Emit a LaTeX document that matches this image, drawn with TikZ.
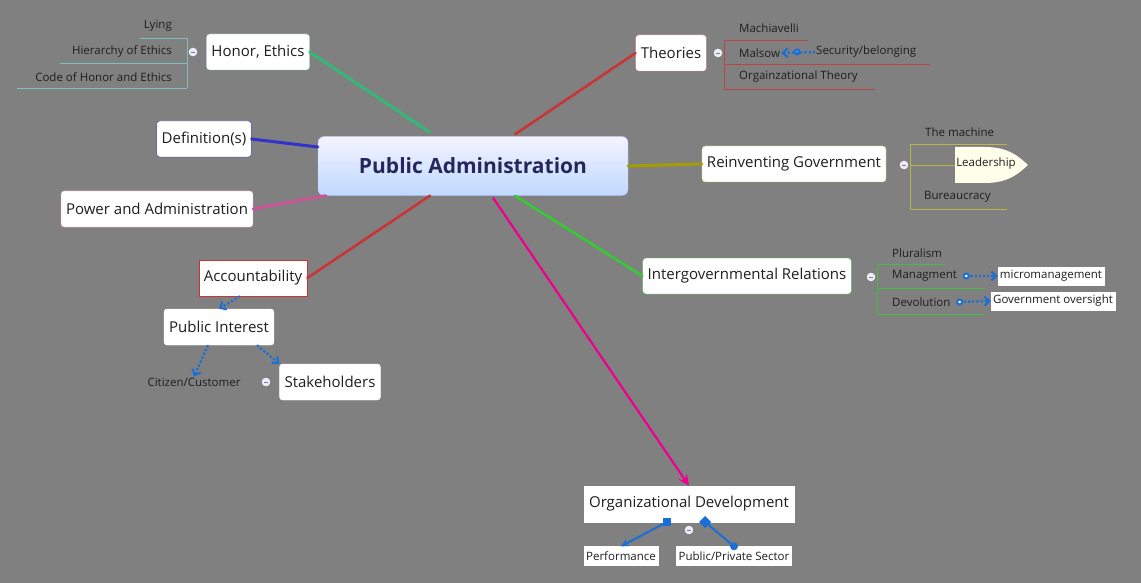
\documentclass[tikz,border=0pt]{standalone}
\usepackage{fontspec}
\setmainfont{Open Sans}
\usetikzlibrary{arrows.meta,shapes.geometric}
\definecolor{bg}{HTML}{808080}
\definecolor{txt}{HTML}{1E1E1E}
\definecolor{arrowblue}{HTML}{1A6FD6}
\tikzset{
  topic/.style={draw=#1,fill=white,rounded corners=3pt,inner xsep=5pt,minimum height=36pt,font=\fontsize{15}{18}\selectfont,text=txt},
  sqtopic/.style={draw=#1,fill=white,inner xsep=5pt,minimum height=36pt,font=\fontsize{15}{18}\selectfont,text=txt},
  sub/.style={font=\fontsize{11.5}{14}\selectfont,text=txt,inner sep=1pt},
  subbox/.style={fill=white,draw=white,font=\fontsize{11.5}{14}\selectfont,text=txt,inner sep=2pt,minimum height=19pt},
  branch/.style={line width=#1,line cap=round},
  dotarrow/.style={arrowblue,line width=2.2pt,dotted,-{Straight Barb[length=5pt,width=9pt,line width=2pt]}},
  collapse/.style={circle,fill=white!80!blue!40,draw=white,inner sep=0pt,minimum size=8pt,
    path picture={\draw[gray,line width=0.8pt] ([xshift=-2pt]path picture bounding box.center)--([xshift=2pt]path picture bounding box.center);}},
  bdot/.style={circle,fill=white,draw=arrowblue,line width=2pt,inner sep=0pt,minimum size=6pt},
}
\begin{document}
\begin{tikzpicture}[x=1pt,y=-1pt]
\fill[bg] (0,0) rectangle (1141,583);
\useasboundingbox (0,0) rectangle (1141,583);
% central
\node[draw=white!70!blue,rounded corners=6pt,top color=white!85!blue!30,bottom color=cyan!40!blue!25,
  minimum width=310pt,minimum height=59pt,font=\fontsize{21}{24}\selectfont\bfseries,text=black!70!blue!70!gray] (pa) at (473,166) {Public Administration};
% main topics
\node[topic=teal!50] (he) at (258,52) {Honor, Ethics};
\node[topic=blue!50!gray] (def) at (204,139) {Definition(s)};
\node[topic=magenta!40] (pow) at (157,209) {Power and Administration};
\node[sqtopic=red!60!gray] (acc) at (253,278) {Accountability};
\node[topic=white] (pi) at (219,327) {Public Interest};
\node[topic=white] (st) at (330,382) {Stakeholders};
\node[sub] (cc) at (194,382) {Citizen/Customer};
\node[topic=red!40] (th) at (671,53) {Theories};
\node[topic=olive!60] (rg) at (794,164) {Reinventing Government};
\node[topic=green!50!gray] (ir) at (747,276) {Intergovernmental Relations};
\node[sqtopic=white] (od) at (689,504) {Organizational Development};
\node[subbox] (perf) at (621,556) {Performance};
\node[subbox] (pps) at (734,556) {Public/Private Sector};
% branches from center
\draw[branch=3pt,teal!70!green!80!white] (pa.north west)+(112,-4) coordinate(c1) -- (he.east);
\draw[branch=3pt,blue!60!gray] (pa.west)+(0,-19) -- (def.east);
\draw[branch=3pt,magenta!60!gray] (pa.south west)+(8,0) -- (pow.east);
\draw[branch=2.5pt,red!60!gray] (pa.south)+(-43,0) -- (acc.east);
\draw[branch=2.5pt,red!60!gray] (pa.north)+(42,-2) -- (th.west);
\draw[branch=3pt,olive!80!yellow] (pa.east) -- (rg.west);
\draw[branch=2.5pt,green!60!gray] (pa.south)+(42,0) -- (ir.west);
\draw[magenta,line width=2.2pt,-{Stealth[length=11pt,width=10pt]}] (pa.south)+(20,2) -- (od.north);
% Honor subs
\node[sub,anchor=east] (ly) at (173,26) {Lying};
\node[sub,anchor=east] (hi) at (173,51) {Hierarchy of Ethics};
\node[sub,anchor=east] (co) at (173,77) {Code of Honor and Ethics};
\draw[teal!50,line width=0.7pt] (60,63)--(187,63) (17,88)--(187,88) (187,38)--(187,88) (140,38)--(187,38);
\node[collapse] (c_he) at (193,52) {};
% Theories subs
\node[sub,anchor=west] (ma) at (738,28) {Machiavelli};
\node[sub,anchor=west] (mw) at (738,53) {Malsow};
\node[sub,anchor=west] (sb) at (815,52) {Security/belonging};
\node[sub,anchor=west] (ot) at (738,77) {Orgainzational Theory};
\draw[red!45!gray,line width=0.6pt] (724,40)--(808,40) (724,64)--(930,64) (724,89)--(875,89) (724,40)--(724,89);
\node[collapse] (c_th) at (718,53) {};
\node[bdot,minimum size=5pt] (d1) at (797,52) {};
\draw[dotarrow] (sb.west) -- (mw.east);
% Reinventing subs
\node[sub,anchor=west] (tm) at (924,132) {The machine};
\node[sub,anchor=west] (bu) at (923,197) {Bureaucracy};
\draw[olive!60,line width=0.6pt] (910,144)--(1007,144) (910,209)--(1007,209) (910,144)--(910,209) (910,165)--(955,165);
\fill[white!92!yellow] (955,147) -- (985,147) .. controls (1010,147) and (1020,158) .. (1028,165) .. controls (1020,172) and (1010,183) .. (985,183) -- (955,183) -- cycle;
\node[sub] (le) at (986,164) {Leadership};
\node[collapse] (c_rg) at (904,165) {};
% Intergovernmental subs
\node[sub,anchor=west] (pl) at (891,253) {Pluralism};
\node[sub,anchor=west] (mg) at (891,276) {Managment};
\node[sub,anchor=west] (dv) at (891,302) {Devolution};
\node[subbox,minimum height=18pt] (mm) at (1051,276) {micromanagement};
\node[subbox,minimum height=18pt] (go) at (1053,301) {Government oversight};
\draw[green!50!gray,line width=0.6pt] (877,264)--(945,264) (877,288)--(985,288) (877,314)--(985,314) (877,264)--(877,314);
\node[collapse] (c_ir) at (871,277) {};
\draw[dotarrow] (mg.east)+(8,0) coordinate(m0) -- (mm.west);
\node[bdot,minimum size=5pt] at (m0) {};
\draw[dotarrow] (dv.east)+(8,0) coordinate(d0) -- (go.west);
\node[bdot,minimum size=5pt] at (d0) {};
% Accountability area
\draw[dotarrow] (acc.south)+(-13,0) -- (pi.north);
\draw[dotarrow] (pi.south)+(-11,0) -- (cc.north);
\draw[dotarrow] (pi.south)+(38,0) -- (st.north west);
\node[collapse] (c_st) at (266,382) {};
% Org dev children
\node[collapse] (c_od) at (689,530) {};
\draw[arrowblue,line width=2pt,-{Stealth[length=8pt,width=8pt]}] (667,522) -- (perf.north);
\fill[arrowblue] (663,518) rectangle (671,526);
\draw[arrowblue,line width=2pt] (705,522) -- (pps.north);
\fill[arrowblue] (705,516) -- (711,522) -- (705,528) -- (699,522) -- cycle;
\fill[arrowblue] (pps.north) circle (4pt);
\end{tikzpicture}
\end{document}
